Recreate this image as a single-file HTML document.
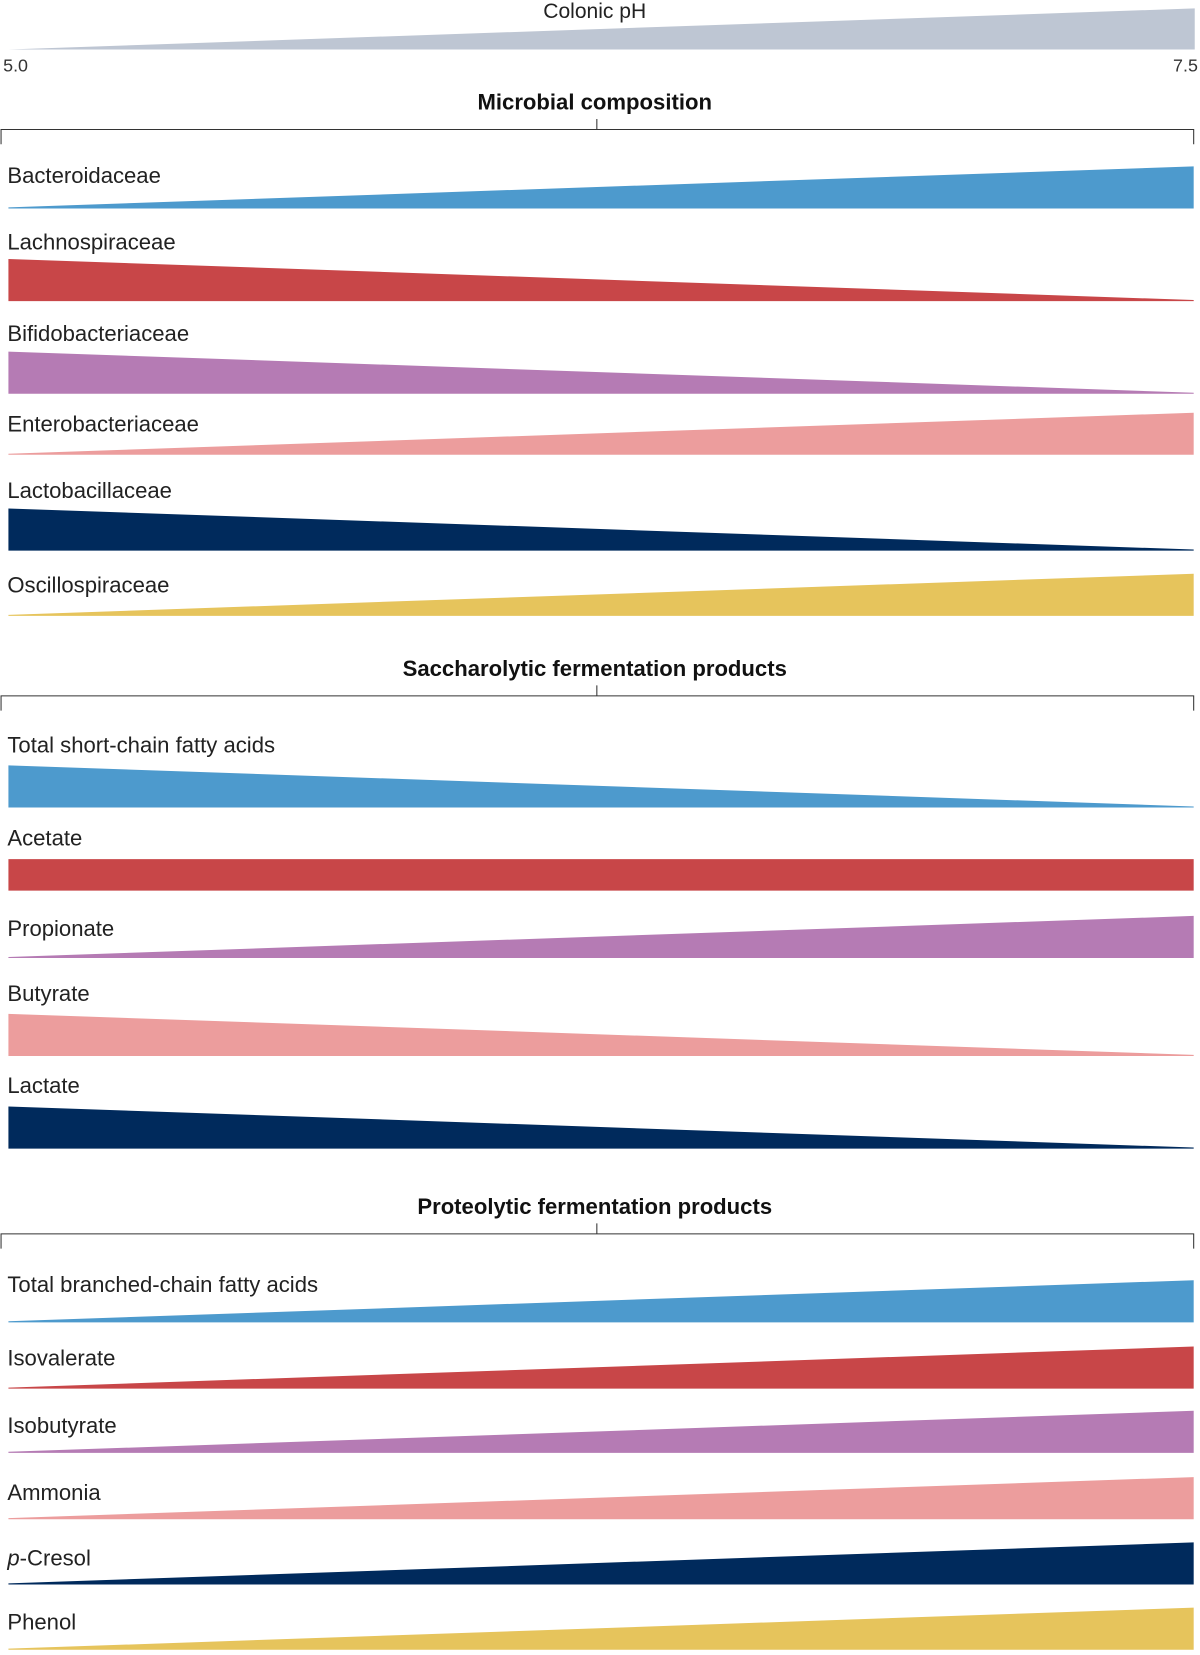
<!DOCTYPE html>
<html><head><meta charset="utf-8"><style>
html,body{margin:0;padding:0;background:#fff;}
svg{display:block;font-family:"Liberation Sans",sans-serif;}
</style></head><body>
<svg id="chart" width="1200" height="1655" viewBox="0 0 1140 1572" preserveAspectRatio="none" xmlns="http://www.w3.org/2000/svg">
<polygon points="8,47 1135,8 1135,47" fill="#bec6d3"/>
<text x="565" y="17" font-size="20" text-anchor="middle" fill="#222">Colonic pH</text>
<text x="3" y="68" font-size="17" fill="#333">5.0</text>
<text x="1138" y="68" font-size="17" text-anchor="end" fill="#333">7.5</text>
<g id="rows"></g>
</svg>
<script>
const sectionTitles = ["Microbial composition","Saccharolytic fermentation products","Proteolytic fermentation products"];
const sectionY = [97,635,1146];
const labels = ["Bacteroidaceae","Lachnospiraceae","Bifidobacteriaceae","Enterobacteriaceae","Lactobacillaceae","Oscillospiraceae",
"Total short-chain fatty acids","Acetate","Propionate","Butyrate","Lactate",
"Total branched-chain fatty acids","Isovalerate","Isobutyrate","Ammonia","p-Cresol","Phenol"];
const startVals = [0,1,1,0,1,0, 1,0.75,0,1,1, 0,0,0,0,0,0];
const endVals =   [1,0,0,1,0,1, 0,0.75,1,0,0, 1,1,1,1,1,1];
const colors = ["#4d9acd","#c84648","#b57bb4","#ec9d9d","#002a5c","#e6c45c",
"#4d9acd","#c84648","#b57bb4","#ec9d9d","#002a5c",
"#4d9acd","#c84648","#b57bb4","#ec9d9d","#002a5c","#e6c45c"];
const labelY = [167,230,317,403,466,556, 708,796,882,944,1031, 1220,1290,1354,1418,1480,1541];
const baseY = [198,286,374,432,523,585, 767,846,910,1003,1091, 1256,1319,1380,1443,1505,1567];
const NS="http://www.w3.org/2000/svg";
const g=document.getElementById('rows');
const x0=8,x1=1134,H=40;
const h=v=>v*H;
sectionTitles.forEach((t,i)=>{
  const y=sectionY[i];
  const tx=document.createElementNS(NS,'text');
  
  
  tx.setAttribute('x',565);tx.setAttribute('y',y+7);tx.setAttribute('font-size','21');
  tx.setAttribute('font-weight','bold');tx.setAttribute('text-anchor','middle');tx.setAttribute('fill','#111');
  tx.textContent=t;g.appendChild(tx);
  const b=document.createElementNS(NS,'path');
  
  
  const by=y+26;
  b.setAttribute('d',`M1,${by+14} V${by} H1134 V${by+14} M567,${by} V${by-10}`);
  b.setAttribute('stroke','#333');b.setAttribute('stroke-width','1');b.setAttribute('fill','none');
  g.appendChild(b);
});
labels.forEach((l,i)=>{
  const tx=document.createElementNS(NS,'text');
  
  
  tx.setAttribute('x',7);tx.setAttribute('y',labelY[i]+7);tx.setAttribute('font-size','21');tx.setAttribute('fill','#222');
  if(l==="p-Cresol"){tx.innerHTML='<tspan font-style="italic">p</tspan>-Cresol';} else tx.textContent=l;
  g.appendChild(tx);
  const p=document.createElementNS(NS,'polygon');
  
  
  const yb=baseY[i];
  p.setAttribute('points',`${x0},${yb} ${x0},${yb-Math.max(h(startVals[i]),1)} ${x1},${yb-Math.max(h(endVals[i]),1)} ${x1},${yb}`);
  p.setAttribute('fill',colors[i]);
  g.appendChild(p);
});
</script>
</body></html>
